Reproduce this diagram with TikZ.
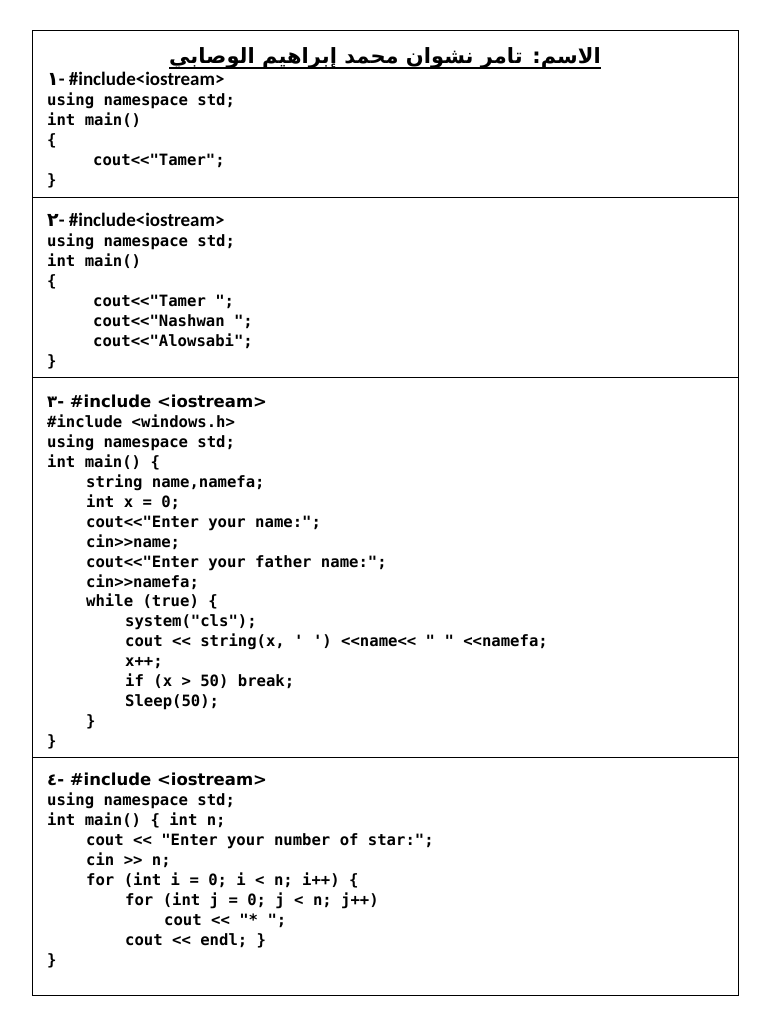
\documentclass[tikz,border=0pt]{standalone}
\usepackage{fontspec}
\TeXXeTstate=1
\newfontfamily\arabicfont[Script=Arabic]{DejaVu Sans}
\newfontfamily\hdA{Carlito}
\newfontfamily\hdB{DejaVu Sans}
\setmonofont{DejaVu Sans Mono}
\begin{document}
\begin{tikzpicture}[x=1pt,y=-1pt,
  code/.style={anchor=base west,inner sep=0pt,font=\ttfamily\bfseries\fontsize{15.6}{18}\selectfont},
  hA/.style={anchor=base west,inner sep=0pt,font=\hdA\bfseries\fontsize{19}{22}\selectfont},
  hB/.style={anchor=base west,inner sep=0pt,font=\hdB\bfseries\fontsize{16.5}{20}\selectfont},
  box/.style={draw,line width=0.8pt}]
\useasboundingbox (0,0) rectangle (768,1024);
\draw[box] (32,30) rectangle (738,995);
\draw[box] (32,197) -- (738,197);
\draw[box] (32,377) -- (738,377);
\draw[box] (32,757) -- (738,757);
\node[anchor=base,inner sep=0pt,font=\arabicfont\bfseries\fontsize{21}{24}\selectfont] (title) at (385,64) {\beginR الاسم: تامر نشوان محمد إبراهيم الوصابي\endR};
\draw[line width=1.2pt] ([yshift=-4pt]title.base west) -- ([yshift=-4pt]title.base east);
% row 1
\node[hA] (a0) at (47,86) {{\arabicfont ١}- \#include<iostream>};
\node[code] (a1) at (47,106) {using namespace std;};
\node[code] (a2) at (47,126) {int main()};
\node[code] (a3) at (47,146) {\{};
\node[code] (a4) at (93,166) {cout<<"Tamer";};
\node[code] (a5) at (47,186) {\}};
% row 2
\node[hA] (b0) at (47,226) {{\arabicfont ٢}- \#include<iostream>};
\node[code] (b1) at (47,246) {using namespace std;};
\node[code] (b2) at (47,266) {int main()};
\node[code] (b3) at (47,286) {\{};
\node[code] (b4) at (93,306) {cout<<"Tamer ";};
\node[code] (b5) at (93,326) {cout<<"Nashwan ";};
\node[code] (b6) at (93,346) {cout<<"Alowsabi";};
\node[code] (b7) at (47,366) {\}};
% row 3
\node[hB] (c0) at (47,407) {{\arabicfont ٣}- \#include <iostream>};
\node[code] (c1) at (47,427) {\#include <windows.h>};
\node[code] (c2) at (47,447) {using namespace std;};
\node[code] (c3) at (47,467) {int main() \{};
\node[code] (c4) at (86,487) {string name,namefa;};
\node[code] (c5) at (86,507) {int x = 0;};
\node[code] (c6) at (86,527) {cout<<"Enter your name:";};
\node[code] (c7) at (86,547) {cin>>name;};
\node[code] (c8) at (86,567) {cout<<"Enter your father name:";};
\node[code] (c9) at (86,587) {cin>>namefa;};
\node[code] (c10) at (86,606) {while (true) \{};
\node[code] (c11) at (125,626) {system("cls");};
\node[code] (c12) at (125,646) {cout << string(x, ' ') <<name<< " " <<namefa;};
\node[code] (c13) at (125,666) {x++;};
\node[code] (c14) at (125,686) {if (x > 50) break;};
\node[code] (c15) at (125,706) {Sleep(50);};
\node[code] (c16) at (86,726) {\}};
\node[code] (c17) at (47,746) {\}};
% row 4
\node[hB] (d0) at (47,785) {{\arabicfont ٤}- \#include <iostream>};
\node[code] (d1) at (47,805) {using namespace std;};
\node[code] (d2) at (47,825) {int main() \{ int n;};
\node[code] (d3) at (86,845) {cout << "Enter your number of star:";};
\node[code] (d4) at (86,865) {cin >> n;};
\node[code] (d5) at (86,885) {for (int i = 0; i < n; i++) \{};
\node[code] (d6) at (125,905) {for (int j = 0; j < n; j++)};
\node[code] (d7) at (164,925) {cout << "* ";};
\node[code] (d8) at (125,945) {cout << endl; \}};
\node[code] (d9) at (47,965) {\}};
\end{tikzpicture}
\end{document}
